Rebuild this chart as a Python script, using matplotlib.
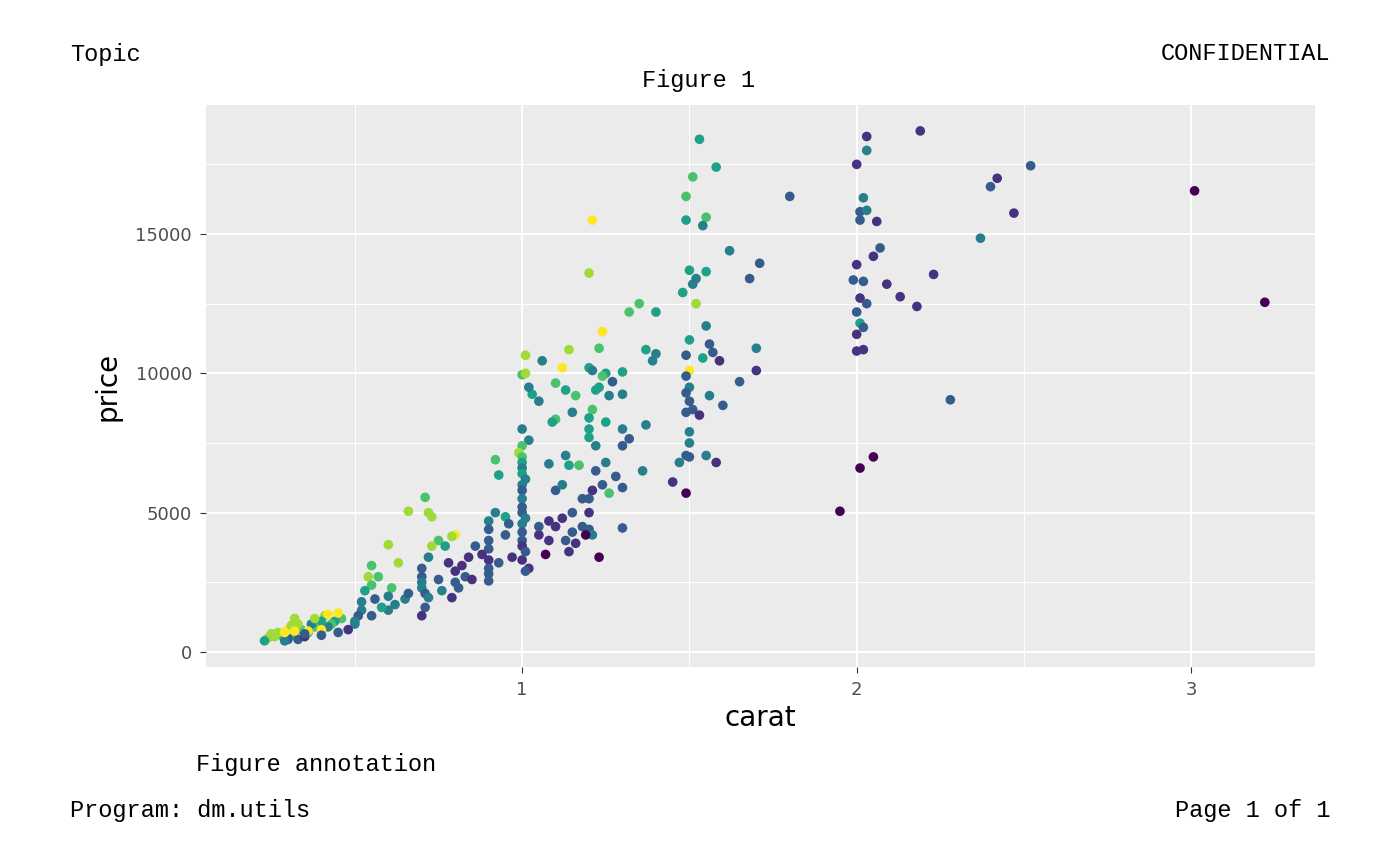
import matplotlib
matplotlib.use("Agg")
import matplotlib.pyplot as plt
import numpy as np

pts = [(3.01,16550,0),(3.22,12550,0),(2.19,18700,1),(2.03,18500,1),(2.52,17450,2),(2.42,17000,1),(2.40,16700,2),(2.47,15750,1),(2.37,14850,3),(1.80,16350,2),(2.00,17500,1),(2.03,18000,3),(1.53,18400,4),(1.58,17400,4),(1.51,17050,5),(1.49,16350,5),(1.55,15600,5),(1.21,15500,7),(1.54,15300,3),(1.49,15500,4),(1.62,14400,3),(1.71,13950,2),(1.68,13400,2),(2.23,13550,1),(2.13,12750,1),(2.18,12400,1),(2.09,13200,1),(2.05,14200,1),(2.07,14500,2),(2.06,15450,1),(2.01,15800,2),(2.02,16300,3),(2.03,15850,3),(2.01,15500,2),(2.00,13900,1),(1.99,13350,2),(2.02,13300,2),(2.01,12700,1),(2.03,12500,2),(2.00,12200,2),(2.01,11800,4),(2.02,11650,2),(2.00,11400,1),(2.00,10800,1),(2.02,10850,1),(2.28,9050,2),(2.01,6600,0),(2.05,7000,0),(1.95,5050,0),(1.49,5700,0),(1.20,13600,6),(1.24,11500,7),(1.32,12200,5),(1.35,12500,5),(1.40,12200,4),(1.48,12900,4),(1.50,13700,4),(1.52,13400,3),(1.51,13200,3),(1.55,13650,4),(1.52,12500,6),(1.55,11700,3),(1.50,11200,4),(1.49,10650,2),(1.57,10750,2),(1.56,11050,2),(1.59,10450,1),(1.54,10550,4),(1.50,10100,7),(1.49,9900,2),(1.50,9500,3),(1.49,9300,2),(1.50,9000,2),(1.51,8700,2),(1.49,8600,2),(1.53,8500,1),(1.50,7900,3),(1.50,7500,3),(1.49,7050,2),(1.55,7050,3),(1.58,6800,1),(1.50,7000,2),(1.47,6800,3),(1.45,6100,1),(1.56,9200,3),(1.65,9700,2),(1.60,8850,2),(1.70,10900,3),(1.70,10100,1),(1.39,10450,3),(1.40,10700,3),(1.37,10850,4),(1.37,8150,3),(1.36,6500,3),(1.32,7650,2),(1.30,7400,2),(1.30,8000,3),(1.30,10050,4),(1.25,10000,4),(1.24,9900,5),(1.23,9500,4),(1.26,9200,3),(1.22,9400,4),(1.20,10200,4),(1.21,10100,3),(1.23,10900,5),(1.21,8700,5),(1.20,8400,4),(1.20,8000,4),(1.22,7400,3),(1.20,7700,4),(1.25,8250,4),(1.27,9700,2),(1.30,9250,3),(1.28,6300,2),(1.25,6800,3),(1.22,6500,2),(1.24,6000,2),(1.21,5800,1),(1.20,5500,2),(1.20,5000,1),(1.20,4400,2),(1.21,4200,3),(1.23,3400,0),(1.30,4450,2),(1.30,5900,2),(1.26,5700,5),(1.16,9200,5),(1.15,8600,3),(1.13,9400,4),(1.12,10200,7),(1.14,10850,6),(1.10,9650,5),(1.06,10450,3),(1.01,10650,6),(1.00,9950,5),(1.01,10000,6),(1.03,9250,4),(1.02,9500,3),(1.05,9000,3),(1.10,8350,5),(1.09,8250,4),(1.00,8000,3),(1.02,7600,3),(1.00,7400,5),(0.99,7150,6),(1.00,7000,5),(1.00,6800,4),(1.00,6600,3),(1.00,6400,4),(1.01,6200,3),(1.00,6000,3),(1.00,5800,2),(1.00,5500,3),(1.00,5200,2),(1.00,5000,2),(1.01,4800,3),(1.00,4600,3),(1.00,4300,2),(1.00,4000,2),(1.00,3800,1),(1.01,3600,2),(1.00,3300,1),(1.02,3000,1),(1.01,2900,2),(1.05,4200,1),(1.05,4500,2),(1.08,4000,1),(1.07,3500,0),(1.08,4700,1),(1.10,5800,2),(1.12,6000,3),(1.08,6750,3),(1.14,6700,4),(1.13,7050,3),(1.17,6700,5),(1.15,5000,2),(1.12,4800,1),(1.10,4500,1),(1.13,4000,2),(1.15,4300,2),(1.16,3900,1),(1.14,3600,1),(1.18,4500,2),(1.18,5500,2),(1.19,4200,0),(0.92,6900,5),(0.93,6350,4),(0.95,4850,4),(0.92,5000,3),(0.90,4700,3),(0.90,4400,2),(0.90,4000,2),(0.90,3700,2),(0.90,3300,1),(0.90,3000,2),(0.90,2800,2),(0.90,2550,2),(0.88,3500,1),(0.86,3800,2),(0.93,3200,2),(0.97,3400,1),(0.95,4200,2),(0.96,4600,2),(0.84,3400,1),(0.80,4200,7),(0.79,4150,6),(0.75,4000,5),(0.77,3800,4),(0.73,3800,6),(0.72,3400,3),(0.71,5550,5),(0.72,5000,6),(0.73,4850,6),(0.66,5050,6),(0.70,3000,2),(0.70,2700,2),(0.70,2500,3),(0.70,2300,3),(0.71,2100,2),(0.72,1950,3),(0.71,1600,2),(0.70,1300,1),(0.75,2600,2),(0.76,2200,3),(0.80,2500,2),(0.80,2900,1),(0.81,2300,2),(0.78,3200,1),(0.82,3100,1),(0.83,2700,2),(0.85,2600,1),(0.79,1950,1),(0.60,3850,6),(0.63,3200,6),(0.61,2300,5),(0.60,2000,3),(0.62,1700,3),(0.65,1900,3),(0.66,2100,2),(0.60,1500,3),(0.55,3100,5),(0.54,2700,6),(0.57,2700,5),(0.55,2400,5),(0.53,2200,4),(0.52,1800,3),(0.52,1500,3),(0.51,1300,2),(0.50,1100,3),(0.50,1000,3),(0.55,1300,2),(0.58,1600,4),(0.56,1900,2),(0.46,1200,5),(0.44,1100,4),(0.43,1000,5),(0.42,900,3),(0.41,1300,6),(0.40,1100,4),(0.40,800,3),(0.38,900,5),(0.37,1000,3),(0.36,700,4),(0.34,800,5),(0.33,1000,6),(0.32,1200,6),(0.32,700,4),(0.31,600,5),(0.30,500,3),(0.30,800,7),(0.31,950,6),(0.30,450,2),(0.28,600,5),(0.27,700,6),(0.26,550,6),(0.25,650,6),(0.24,500,6),(0.23,400,4),(0.29,400,3),(0.33,450,2),(0.35,550,1),(0.45,1400,7),(0.42,1350,7),(0.40,800,7),(0.36,750,7),(0.32,750,7),(0.38,1200,6),(0.48,800,1),(0.45,700,2),(0.40,600,2),(0.35,650,2),(0.29,700,7)]
carat = [p[0] for p in pts]
price = [p[1] for p in pts]
clarity = [p[2] for p in pts]

plt.rcParams['font.family'] = ['DejaVu Sans']
fig = plt.figure(figsize=(14, 8.66), dpi=100)
ax = fig.add_axes([206/1400, 1-667/866, (1315-206)/1400, (667-105)/866])
ax.set_facecolor("#EBEBEB")
cols = plt.cm.viridis(np.array(clarity)/7)
ax.scatter(carat, price, c=cols, s=48, edgecolors="none", zorder=3)
ax.set_xlim(0.055, 3.37)
ax.set_ylim(-540, 19630)
ax.set_xticks([1, 2, 3])
ax.set_yticks([0, 5000, 10000, 15000])
ax.set_xticks([0.5, 1.5, 2.5], minor=True)
ax.set_yticks([2500, 7500, 12500, 17500], minor=True)
ax.grid(True, which="major", color="white", lw=1.4, zorder=0)
ax.grid(True, which="minor", color="white", lw=0.7, zorder=0)
ax.set_axisbelow(True)
for s in ax.spines.values():
    s.set_visible(False)
ax.tick_params(which="major", colors="#4D4D4D", labelsize=13, length=4, color="#333333", pad=6)
ax.tick_params(which="minor", length=0)
ax.set_xlabel("carat", fontsize=20, labelpad=4)
ax.set_ylabel("price", fontsize=20, labelpad=10)

mono = "Liberation Mono"
fs = 17
fig.text(70/1400, 1-54/866, "Topic", family=mono, fontsize=fs, va="center")
fig.text(1330/1400, 1-54/866, "CONFIDENTIAL", family=mono, fontsize=fs, va="center", ha="right")
fig.text(698/1400, 1-80/866, "Figure 1", family=mono, fontsize=fs, va="center", ha="center")
fig.text(196/1400, 1-765/866, "Figure annotation", family=mono, fontsize=fs, va="center")
fig.text(70/1400, 1-810/866, "Program: dm.utils", family=mono, fontsize=fs, va="center")
fig.text(1330/1400, 1-810/866, "Page 1 of 1", family=mono, fontsize=fs, va="center", ha="right")
fig.savefig("out.png", dpi=100)
